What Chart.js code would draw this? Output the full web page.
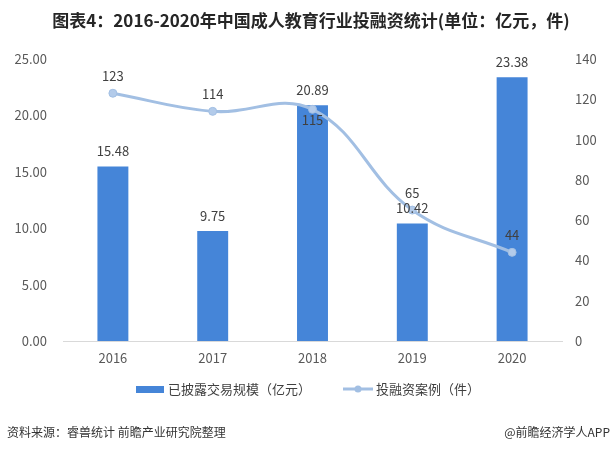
<!DOCTYPE html>
<html><head><meta charset="utf-8">
<script src="https://cdn.jsdelivr.net/npm/chart.js@4.4.1/dist/chart.umd.min.js"></script>
<style>html,body{margin:0;padding:0;background:#fff}#wrap{width:614px;height:452px;position:relative}</style>
</head><body><div id="wrap"><canvas id="c" width="614" height="452"></canvas></div>
<script>
const categories = ['2016','2017','2018','2019','2020'];
const dealScale = [15.48, 9.75, 20.89, 10.42, 23.38];
const dealCount = [123, 114, 115, 65, 44];
const leftTicks = [0,5,10,15,20,25];
const rightTicks = [0,20,40,60,80,100,120,140];
const titleText = '图表4：2016-2020年中国成人教育行业投融资统计(单位：亿元，件)';
const seriesNames = ['已披露交易规模（亿元）','投融资案例（件）'];
const sourceText = '资料来源：睿兽统计 前瞻产业研究院整理';
const brandText = '@前瞻经济学人APP';

const FONT = '"Noto Sans CJK SC","Noto Sans",sans-serif';
const BAR = '#4585d8';
const LINE = '#a2bfe3';

const labelPlugin = {
  id: 'labels',
  afterDatasetsDraw(chart) {
    const ctx = chart.ctx;
    ctx.save();
    ctx.font = '13px ' + FONT;
    ctx.fillStyle = '#404040';
    ctx.textAlign = 'center';
    ctx.textBaseline = 'middle';
    const bm = chart.getDatasetMeta(1);
    bm.data.forEach((el, i) => {
      ctx.fillText(dealScale[i].toFixed(2), el.x, el.y - 15);
    });
    const lm = chart.getDatasetMeta(0);
    lm.data.forEach((el, i) => {
      const dy = (i === 2) ? 11 : -17;
      ctx.fillText(String(dealCount[i]), el.x, el.y + dy);
    });
    ctx.restore();
  },
  afterDraw(chart) {
    const ctx = chart.ctx;
    ctx.save();
    ctx.font = 'bold 17px ' + FONT;
    ctx.fillStyle = '#262626';
    ctx.textAlign = 'center';
    ctx.textBaseline = 'middle';
    ctx.fillText(titleText, 311, 21);
    ctx.font = '13px ' + FONT;
    ctx.fillStyle = BAR;
    ctx.fillRect(136, 386, 28, 7);
    ctx.fillStyle = '#404040';
    ctx.textAlign = 'left';
    ctx.fillText(seriesNames[0], 168, 389);
    ctx.strokeStyle = LINE;
    ctx.lineWidth = 3;
    ctx.beginPath(); ctx.moveTo(343, 389); ctx.lineTo(373, 389); ctx.stroke();
    ctx.fillStyle = LINE;
    ctx.beginPath(); ctx.arc(358, 389, 3.5, 0, Math.PI*2); ctx.fill();
    ctx.fillStyle = '#404040';
    ctx.fillText(seriesNames[1], 376, 389);
    ctx.font = '12px ' + FONT;
    ctx.fillStyle = '#333';
    ctx.fillText(sourceText, 7, 432);
    ctx.textAlign = 'right';
    ctx.fillText(brandText, 610, 432);
    ctx.restore();
  }
};

new Chart(document.getElementById('c'), {
  data: {
    labels: categories,
    datasets: [
      { type: 'line', label: seriesNames[1], data: dealCount, yAxisID: 'y1',
        borderColor: LINE, backgroundColor: LINE, borderWidth: 3,
        pointRadius: 4, pointBackgroundColor: '#b3cbea', pointBorderColor: LINE, pointBorderWidth: 1,
        tension: 0.4, order: 0 },
      { type: 'bar', label: seriesNames[0], data: dealScale, yAxisID: 'y',
        backgroundColor: BAR, barPercentage: 0.31, categoryPercentage: 1, order: 1 }
    ]
  },
  options: {
    responsive: false, animation: false, devicePixelRatio: 1,
    layout: { padding: { left: 0, right: 0, top: 59, bottom: 81 } },
    plugins: { legend: { display: false }, title: { display: false }, tooltip: { enabled: false } },
    scales: {
      x: {
        grid: { display: false, drawTicks: false },
        border: { display: true, color: '#d9d9d9', width: 1 },
        ticks: { font: { family: FONT, size: 13 }, color: '#595959', padding: 9 },
        afterFit(s) { s.height = 30; }
      },
      y: {
        position: 'left', min: 0, max: 25,
        grid: { display: false, drawTicks: false },
        border: { display: false },
        afterBuildTicks(s) { s.ticks = leftTicks.map(v => ({ value: v })); },
        ticks: { font: { family: FONT, size: 13 }, color: '#595959', padding: 16,
                 callback: v => Number(v).toFixed(2) },
        afterFit(s) { s.width = 63; }
      },
      y1: {
        position: 'right', min: 0, max: 140,
        grid: { display: false, drawTicks: false },
        border: { display: false },
        afterBuildTicks(s) { s.ticks = rightTicks.map(v => ({ value: v })); },
        ticks: { font: { family: FONT, size: 13 }, color: '#595959', padding: 13 },
        afterFit(s) { s.width = 52; }
      }
    }
  },
  plugins: [labelPlugin]
});
</script></body></html>
